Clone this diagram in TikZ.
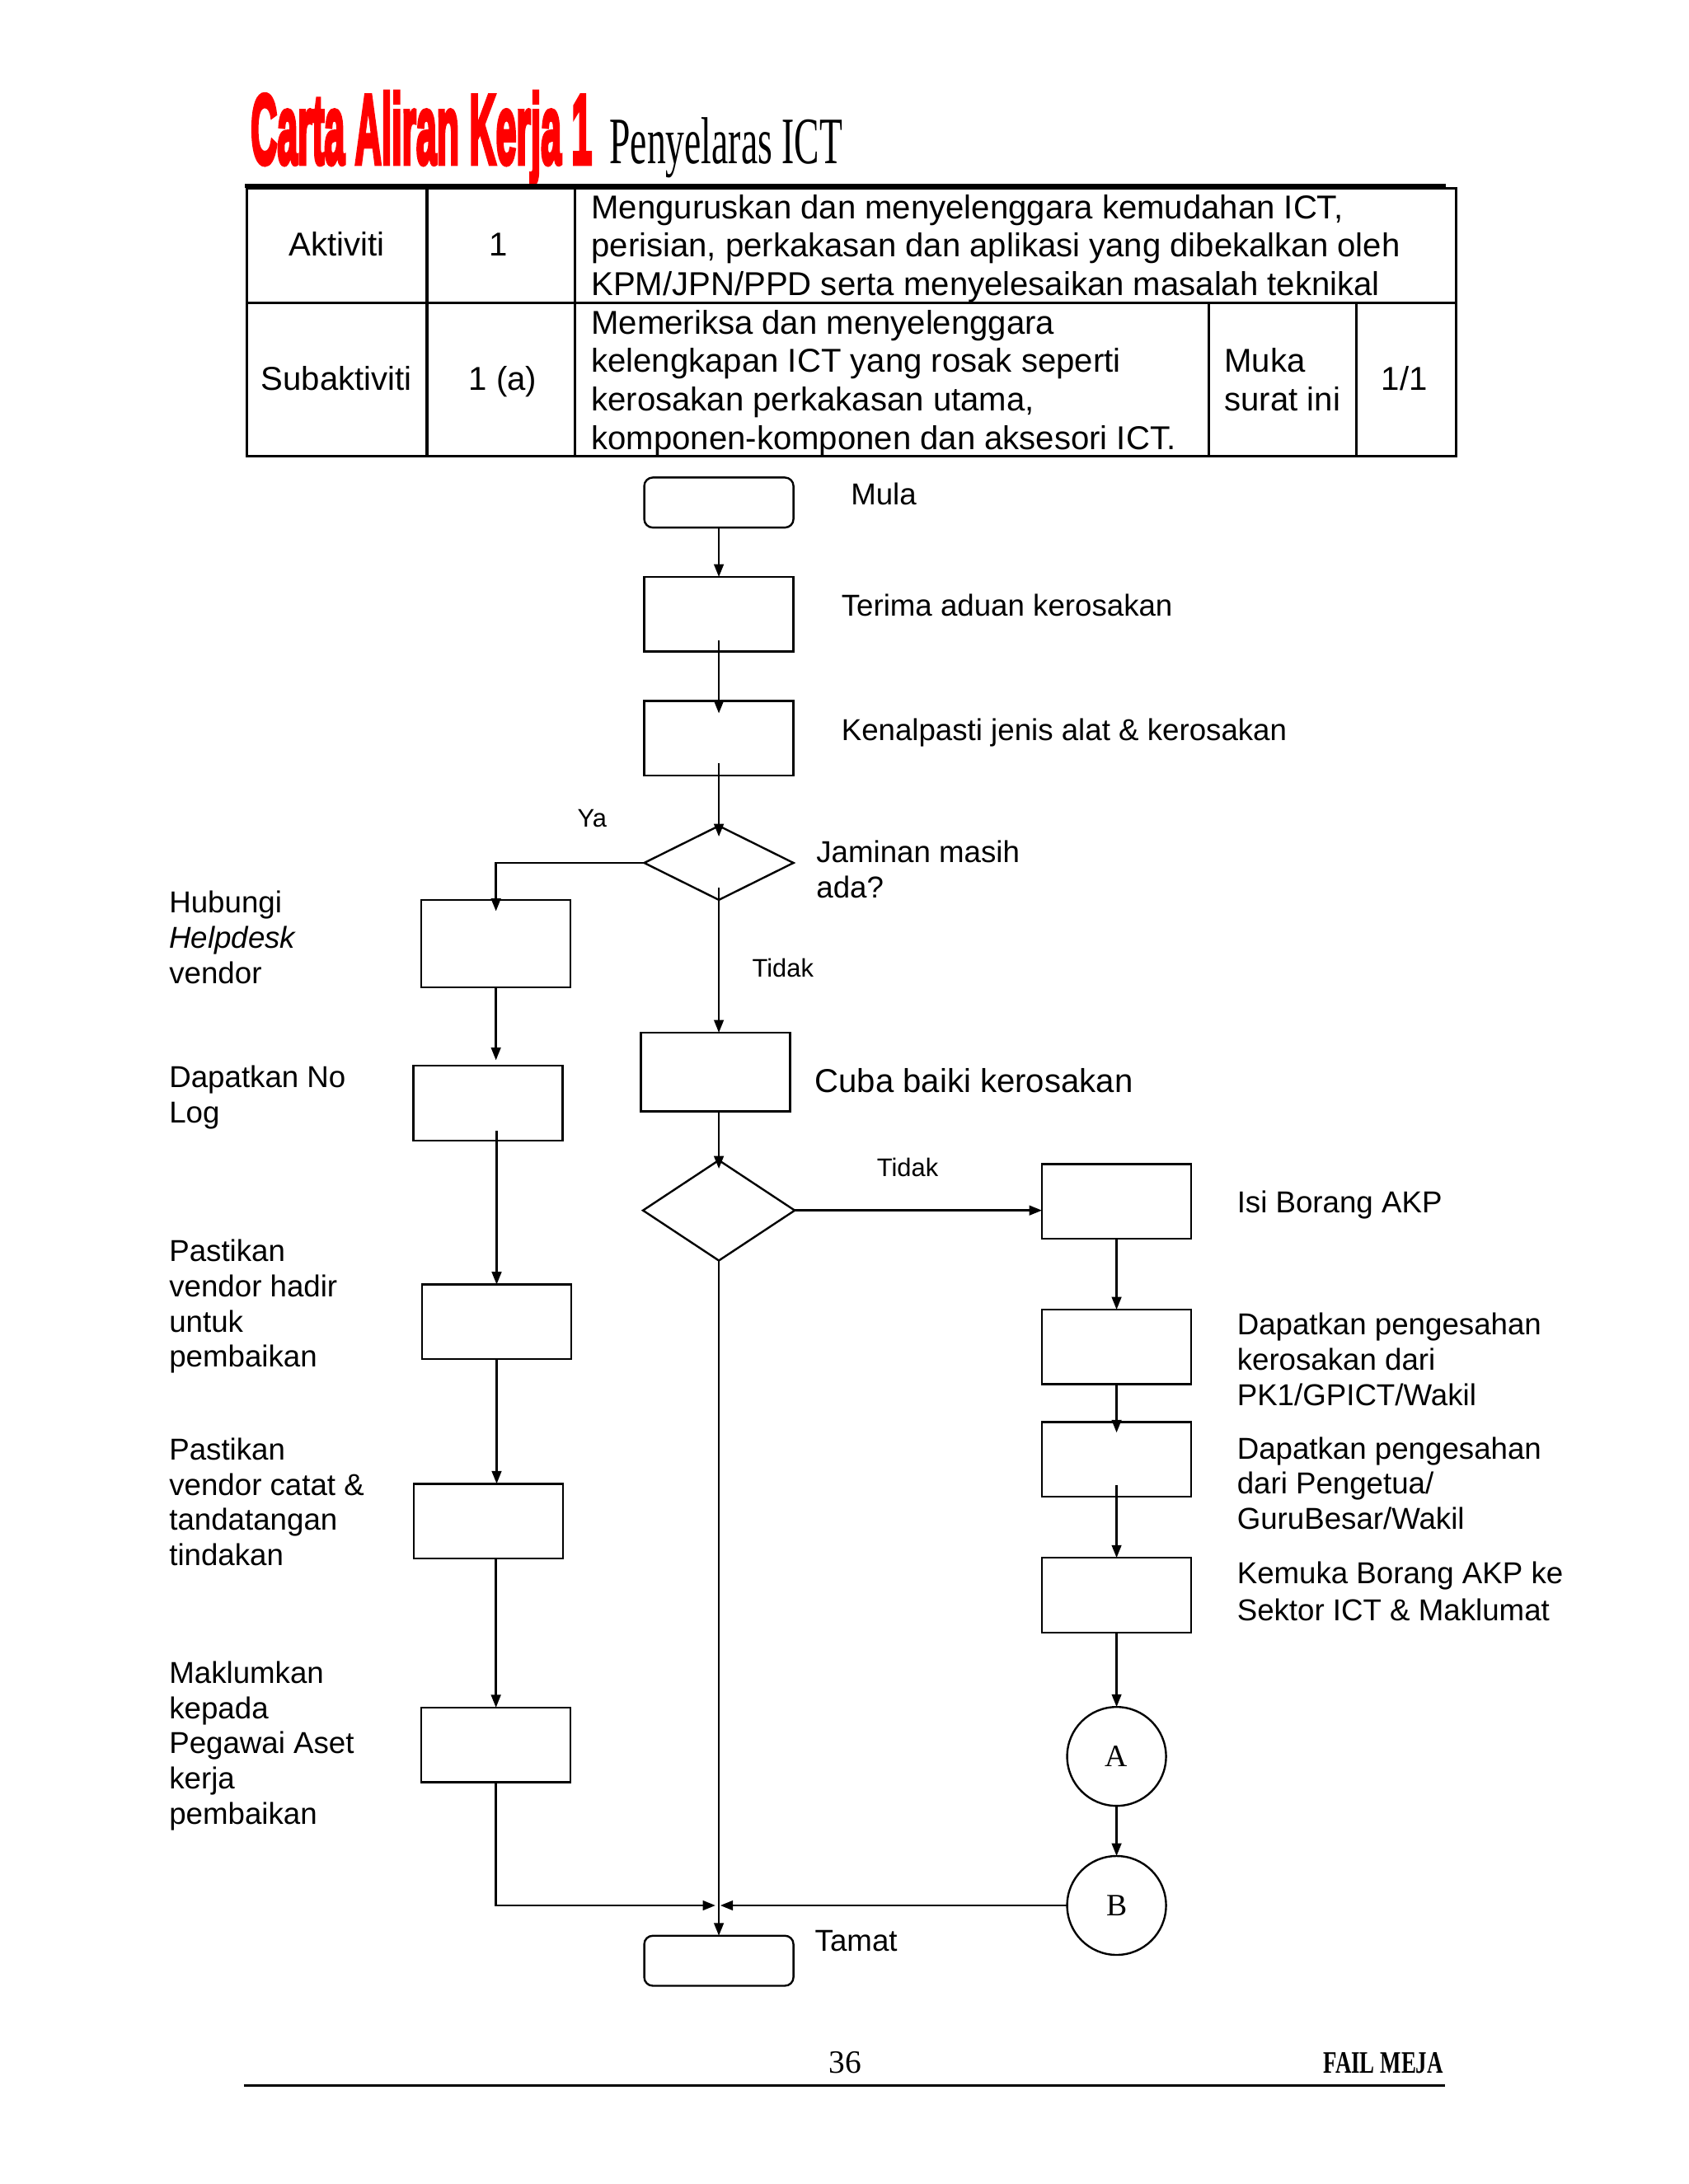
\documentclass[tikz,border=0pt]{standalone}
\usepackage{fontspec}
\setmainfont{Liberation Sans}
\newfontfamily\timesfont{Liberation Serif}
\newfontfamily\heavyfont[FakeBold=5]{Liberation Sans Bold}
\usepackage{graphicx}
\usetikzlibrary{arrows.meta,shapes.geometric}

\begin{document}
\begin{tikzpicture}[x=0.493pt,y=-0.493pt,
  every node/.style={inner sep=0pt,outer sep=0pt,font=\fontsize{10.7}{12.5}\selectfont},
  box/.style={draw,line width=0.7pt,minimum width=52.8pt,minimum height=26.4pt},
  ends/.style={box,rounded corners=3pt,minimum height=17.7pt},
  ask/.style={draw,line width=0.7pt,diamond,minimum width=52.8pt,minimum height=26.2pt},
  link/.style={draw,line width=0.7pt,circle,minimum size=35pt,font=\timesfont\fontsize{11}{13}\selectfont},
  arr/.style={line width=0.7pt,-{Triangle[length=4.5pt,width=3.4pt]}},
  lbl/.style={anchor=north west,align=left},
  tag/.style={anchor=base west},
  note/.style={anchor=base west,font=\fontsize{9}{11}\selectfont},
  tbl/.style={line width=0.9pt},
  cell/.style={font=\fontsize{11.7}{13.6}\selectfont}]
\useasboundingbox (0,0) rectangle (1212,1568);

% tajuk
\node[anchor=base west,text=red] (tajuk) at (180,117.4) {\resizebox{120.8pt}{25.3pt}{\heavyfont Carta Aliran Kerja 1}};
\node[anchor=base west] (subtajuk) at (437.5,117.4) {\resizebox{82.4pt}{16.3pt}{\timesfont Penyelaras ICT}};

% jadual
\draw[line width=1.6pt] (176,133.5) -- (1038,133.5);
\draw[tbl] (177,135) rectangle (1045,327.5);
\draw[tbl] (177,217.4) -- (1045,217.4);
\foreach \x in {306.5,412.5} \draw[tbl] (\x,135) -- (\x,327.5);
\foreach \x in {867.5,973.5} \draw[tbl] (\x,217.4) -- (\x,327.5);
\node[cell,anchor=base] (aktiviti) at (241.6,183.5) {Aktiviti};
\node[cell,anchor=base] (aktno) at (358,183.5) {1};
\node[cell,lbl] (aktdesc) at (424.5,139.7) {Menguruskan dan menyelenggara kemudahan ICT,\\perisian, perkakasan dan aplikasi yang dibekalkan oleh\\KPM/JPN/PPD serta menyelesaikan masalah teknikal};
\node[cell,anchor=base] (subakt) at (241.5,280) {Subaktiviti};
\node[cell,anchor=base] (subno) at (361,280) {1 (a)};
\node[cell,lbl] (subdesc) at (424.5,222.6) {Memeriksa dan menyelenggara\\kelengkapan ICT yang rosak seperti\\kerosakan perkakasan utama,\\komponen-komponen dan aksesori ICT.};
\node[cell,lbl] (muka) at (879,250.2) {Muka\\surat ini};
\node[cell,anchor=base] (mukano) at (1008,280) {1/1};

% kotak aliran
\node[ends] (mula) at (516,360.8) {};
\node[box] (terima) at (516,441) {};
\node[box] (kenal) at (516,530) {};
\node[ask] (jaminan) at (516,619.5) {};
\node[box,minimum height=31pt] (hubungi) at (356,677.5) {};
\node[box] (nolog) at (350.3,792) {};
\node[box] (hadir) at (356.5,949) {};
\node[box] (catat) at (350.6,1092) {};
\node[box] (maklum) at (356,1252.7) {};
\node[box,minimum height=27.9pt] (cuba) at (513.7,769.7) {};
\node[ask,minimum width=53.7pt,minimum height=35.5pt] (semak) at (516,869) {};
\node[box] (isi) at (801.5,862.5) {};
\node[box] (sahA) at (801.5,967) {};
\node[box] (sahB) at (801.5,1047.8) {};
\node[box] (kemuka) at (801.5,1145.2) {};
\node[link] (sambA) at (801.5,1261) {A};
\node[link] (sambB) at (801.5,1368) {B};
\node[ends] (tamat) at (516,1407.7) {};

% penyambung
\draw[arr] (mula) -- (terima);
\draw[arr] ([yshift=3.9pt]terima.south) -- ([yshift=-4.4pt]kenal.north);
\draw[arr] ([yshift=4.4pt]kenal.south) -- ([yshift=-3.8pt]jaminan.north);
\draw[arr] ([yshift=4.4pt]jaminan.south) -- (jaminan.south |- cuba.north);
\draw[arr] (jaminan.south |- cuba.south) -- ([yshift=-3pt]semak.north);
\draw[arr] (semak.east) -- (semak.east -| isi.west);
\draw[arr] (semak.south) -- (tamat.north);
\draw[arr] (jaminan.west) -| ([yshift=-4pt]hubungi.north);
\draw[arr] (hubungi.south) -- ([yshift=2pt]hubungi.south |- nolog.north);
\draw[arr] ([yshift=3.3pt]hadir.north |- nolog.south) -- (hadir.north);
\draw[arr] (hadir.south) -- (hadir.south |- catat.north);
\draw[arr] (maklum.north |- catat.south) -- (maklum.north);
\coordinate (temu) at (semak.south |- sambB.west);
\draw[arr] (maklum.south) |- ([xshift=-1.2pt]temu);
\draw[arr] (sambB.west) -- ([xshift=0.5pt]temu);
\draw[arr] (isi.south) -- (sahA.north);
\draw[arr] (sahA.south) -- ([yshift=-3.7pt]sahB.north);
\draw[arr] ([yshift=4.2pt]sahB.south) -- (kemuka.north);
\draw[arr] (kemuka.south) -- (sambA.north);
\draw[arr] (sambA.south) -- (sambB.north);

% label
\node[tag] (lmula) at (610.8,362.6) {Mula};
\node[tag] (lterima) at (604,442.3) {Terima aduan kerosakan};
\node[tag] (lkenal) at (604,531.6) {Kenalpasti jenis alat \& kerosakan};
\node[lbl] (ljaminan) at (586,603.7) {Jaminan masih\\ada?};
\node[note] (lya) at (414.5,593.7) {Ya};
\node[note] (ltidakA) at (540,701.3) {Tidak};
\node[tag,font=\fontsize{11.7}{13.6}\selectfont] (lcuba) at (585,784) {Cuba baiki kerosakan};
\node[note] (ltidakB) at (629.5,844.4) {Tidak};
\node[tag] (lisi) at (888,870.8) {Isi Borang AKP};
\node[lbl] (lsahA) at (888,942.6) {Dapatkan pengesahan\\kerosakan dari\\PK1/GPICT/Wakil};
\node[lbl] (lsahB) at (888,1031.6) {Dapatkan pengesahan\\dari Pengetua/\\GuruBesar/Wakil};
\node[lbl,font=\fontsize{10.7}{13}\selectfont] (lkemuka) at (888,1121.4) {Kemuka Borang AKP ke\\Sektor ICT \& Maklumat};
\node[tag] (ltamat) at (585,1401) {Tamat};
\node[lbl] (lhubungi) at (121.5,639.7) {Hubungi\\\textit{Helpdesk}\\vendor};
\node[lbl] (lnolog) at (121.5,764.8) {Dapatkan No\\Log};
\node[lbl] (lhadir) at (121.5,889.8) {Pastikan\\vendor hadir\\untuk\\pembaikan};
\node[lbl] (lcatat) at (121.5,1032.3) {Pastikan\\vendor catat \&\\tandatangan\\tindakan};
\node[lbl] (lmaklum) at (121.5,1192.6) {Maklumkan\\kepada\\Pegawai Aset\\kerja\\pembaikan};

% kaki
\node[anchor=base,font=\timesfont\fontsize{11.5}{13}\selectfont] (nomuka) at (606.5,1488.4) {36};
\node[anchor=base west] (fail) at (950,1488.4) {\resizebox{42.4pt}{7.3pt}{\timesfont\bfseries FAIL MEJA}};
\draw[line width=1pt] (175,1497.3) -- (1037,1497.3);
\end{tikzpicture}
\end{document}
